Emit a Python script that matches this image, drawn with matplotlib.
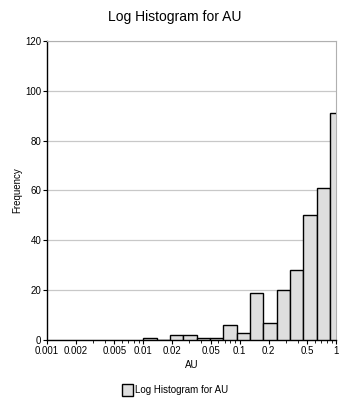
import matplotlib; matplotlib.use("Agg")
import matplotlib.pyplot as plt
from matplotlib.ticker import FixedLocator, NullFormatter, LogLocator
from matplotlib.patches import Patch

# bin edges (AU) and counts
bin_edges = [0.01, 0.01375, 0.0189, 0.0260, 0.0358, 0.0492, 0.0677, 0.0931,
             0.128, 0.176, 0.242, 0.333, 0.458, 0.630, 0.866, 1.19]
counts = [1, 0, 2, 2, 1, 1, 6, 3, 19, 7, 20, 28, 50, 61, 91]
xticks = [0.001, 0.002, 0.005, 0.01, 0.02, 0.05, 0.1, 0.2, 0.5, 1]
xtick_labels = ["0.001", "0.002", "0.005", "0.01", "0.02", "0.05", "0.1", "0.2", "0.5", "1"]
yticks = [0, 20, 40, 60, 80, 100, 120]

plt.rcParams["font.family"] = ["Liberation Sans", "DejaVu Sans"]
fig = plt.figure(figsize=(3.5, 4.05), dpi=100)
ax = fig.add_axes([0.134, 0.1605, 0.826, 0.7383])

widths = [b - a for a, b in zip(bin_edges[:-1], bin_edges[1:])]
ax.bar(bin_edges[:-1], counts, width=widths, align="edge",
       color="#dedede", edgecolor="black", linewidth=1.0, zorder=3)

ax.set_xscale("log")
ax.set_xlim(0.001, 1)
ax.set_ylim(0, 120)
ax.xaxis.set_major_locator(FixedLocator(xticks))
ax.set_xticklabels(xtick_labels, fontsize=7)
ax.xaxis.set_minor_locator(LogLocator(base=10, subs=[3, 4, 6, 7, 8, 9]))
ax.xaxis.set_minor_formatter(NullFormatter())
ax.set_yticks(yticks)
ax.tick_params(axis="y", labelsize=7, length=3, width=0.8, pad=1)
ax.tick_params(axis="x", which="major", length=3, width=0.8, pad=1)
ax.tick_params(axis="x", which="minor", length=2, width=0.6)
ax.yaxis.grid(True, color="#c8c8c8", linewidth=0.9, zorder=0)
ax.set_axisbelow(True)
for s in ("top", "right"):
    ax.spines[s].set_color("#b0b0b0")
for s in ("left", "bottom"):
    ax.spines[s].set_color("black")
    ax.spines[s].set_linewidth(1.0)

ax.set_xlabel("AU", fontsize=7, labelpad=3)
ax.set_ylabel("Frequency", fontsize=7)
ax.yaxis.set_label_coords(-0.085, 0.5)
fig.text(0.5, 0.958, "Log Histogram for AU", ha="center", va="center", fontsize=10)

handle = Patch(facecolor="#dedede", edgecolor="black", linewidth=1.0)
fig.legend([handle], ["Log Histogram for AU"], loc="center", bbox_to_anchor=(0.5, 0.037),
           frameon=False, fontsize=7, handlelength=1.2, handleheight=1.4, handletextpad=0.2)

fig.savefig("out.png", dpi=100)
